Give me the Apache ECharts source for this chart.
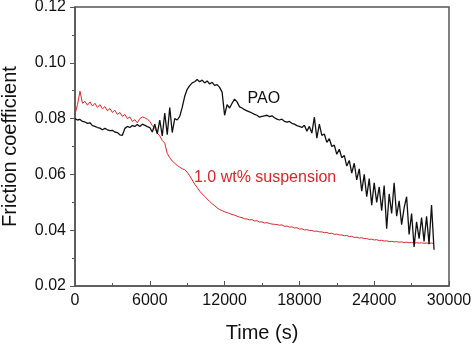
<!DOCTYPE html>
<html>
<head>
<meta charset="utf-8">
<script src="https://cdn.jsdelivr.net/npm/echarts@6/dist/echarts.min.js"></script>
<style>
  html, body { margin: 0; padding: 0; background: #fff; }
  #chart { width: 474px; height: 346px; }
</style>
</head>
<body>
<div id="chart"></div>
<script>
// Sampling interval of the logged friction traces, in seconds
const sampleStep = 200;

// PAO base oil, friction coefficient every 200 s from t = 0
const paoFriction = [
  0.0800, 0.0795, 0.0797, 0.0790, 0.0788, 0.0783, 0.0785, 0.0775, 0.0772, 0.0768,
  0.0766, 0.0760, 0.0765, 0.0760, 0.0757, 0.0758, 0.0752, 0.0750, 0.0742, 0.0740,
  0.0765, 0.0772, 0.0768, 0.0775, 0.0772, 0.0779, 0.0772, 0.0780, 0.0776, 0.0771,
  0.0768, 0.0752, 0.0780, 0.0745, 0.0795, 0.0738, 0.0820, 0.0742, 0.0840, 0.0750,
  0.0800, 0.0795, 0.0808, 0.0840, 0.0880, 0.0905, 0.0918, 0.0928, 0.0932, 0.0940,
  0.0932, 0.0938, 0.0928, 0.0935, 0.0924, 0.0930, 0.0919, 0.0922, 0.0912, 0.0895,
  0.0812, 0.0850, 0.0838, 0.0855, 0.0870, 0.0860, 0.0842, 0.0838, 0.0832, 0.0828,
  0.0824, 0.0820, 0.0815, 0.0812, 0.0805, 0.0808, 0.0810, 0.0812, 0.0807, 0.0810,
  0.0803, 0.0798, 0.0795, 0.0798, 0.0790, 0.0787, 0.0790, 0.0783, 0.0780, 0.0775,
  0.0772, 0.0768, 0.0776, 0.0755, 0.0772, 0.0748, 0.0805, 0.0730, 0.0780, 0.0740,
  0.0745, 0.0715, 0.0728, 0.0700, 0.0705, 0.0672, 0.0690, 0.0660, 0.0668, 0.0630,
  0.0650, 0.0605, 0.0640, 0.0580, 0.0620, 0.0540, 0.0600, 0.0520, 0.0585, 0.0490,
  0.0570, 0.0500, 0.0555, 0.0470, 0.0560, 0.0405, 0.0530, 0.0460, 0.0570, 0.0450,
  0.0505, 0.0420, 0.0480, 0.0520, 0.0385, 0.0460, 0.0340, 0.0430, 0.0370, 0.0445,
  0.0360, 0.0450, 0.0350, 0.0490, 0.0330
];

// 1.0 wt% suspension, friction coefficient every 200 s from t = 0
const suspensionFriction = [
  0.0815, 0.0850, 0.0898, 0.0855, 0.0862, 0.0848, 0.0860, 0.0845, 0.0855, 0.0840,
  0.0850, 0.0835, 0.0843, 0.0828, 0.0836, 0.0822, 0.0830, 0.0815, 0.0822, 0.0808,
  0.0815, 0.0800, 0.0806, 0.0790, 0.0796, 0.0785, 0.0800, 0.0806, 0.0803, 0.0798,
  0.0790, 0.0775, 0.0765, 0.0748, 0.0738, 0.0722, 0.0712, 0.0675, 0.0660, 0.0648,
  0.0640, 0.0632, 0.0626, 0.0620, 0.0617, 0.0608, 0.0595, 0.0580, 0.0565, 0.0553,
  0.0540, 0.0530, 0.0521, 0.0512, 0.0503, 0.0495, 0.0488, 0.0480, 0.0474, 0.0470,
  0.0466, 0.0463, 0.0460, 0.0456, 0.0454, 0.0450, 0.0447, 0.0445, 0.0441, 0.0440,
  0.0437, 0.0438, 0.0433, 0.0434, 0.0429, 0.0430, 0.0426, 0.0427, 0.0424, 0.0422,
  0.0421, 0.0420, 0.0418, 0.0419, 0.0414, 0.0415, 0.0411, 0.0412, 0.0408, 0.0409,
  0.0404, 0.0405, 0.0401, 0.0402, 0.0399, 0.0399, 0.0396, 0.0397, 0.0394, 0.0394,
  0.0391, 0.0392, 0.0388, 0.0389, 0.0385, 0.0386, 0.0383, 0.0383, 0.0380, 0.0381,
  0.0377, 0.0378, 0.0374, 0.0375, 0.0372, 0.0373, 0.0370, 0.0370, 0.0367, 0.0368,
  0.0365, 0.0366, 0.0363, 0.0364, 0.0361, 0.0362, 0.0359, 0.0360, 0.0358, 0.0359,
  0.0357, 0.0358, 0.0356, 0.0357, 0.0355, 0.0356, 0.0354, 0.0355, 0.0354, 0.0355,
  0.0353, 0.0354, 0.0353, 0.0354, 0.0352
];

// Axis ranges and ticks
const timeTicks = [0, 6000, 12000, 18000, 24000, 30000];
const frictionTicks = [0.02, 0.04, 0.06, 0.08, 0.10, 0.12];

// Curve annotations: [text, time, friction]
const paoLabel = ['PAO', 15150, 0.0870];
const suspensionLabel = ['1.0 wt% suspension', 15250, 0.0590];

function toPairs(values) {
  return values.map((v, i) => [i * sampleStep, v]);
}

const FONT = '"Liberation Sans", Arial, sans-serif';
const axisColor = '#555';
const redColor = '#d8262c';

const chart = echarts.init(document.getElementById('chart'), null, { renderer: 'canvas' });

chart.setOption({
  animation: false,
  backgroundColor: '#fff',
  grid: {
    left: 75, right: 25, top: 7, bottom: 60,
    outerBoundsMode: 'none',
    containLabel: false,
    show: true,
    borderColor: axisColor,
    borderWidth: 1.5,
    backgroundColor: 'transparent'
  },
  xAxis: {
    type: 'value',
    min: timeTicks[0],
    max: timeTicks[timeTicks.length - 1],
    interval: timeTicks[1] - timeTicks[0],
    name: 'Time (s)',
    nameLocation: 'middle',
    nameGap: 37,
    nameTextStyle: { fontFamily: FONT, fontSize: 20, color: '#111' },
    axisLine: { show: true, onZero: false, lineStyle: { color: axisColor, width: 1.5 } },
    axisTick: { show: true, inside: true, length: 5, lineStyle: { color: axisColor, width: 1 } },
    minorTick: { show: true, splitNumber: 2, length: 3, lineStyle: { color: axisColor, width: 1 } },
    axisLabel: { fontFamily: FONT, fontSize: 16, color: '#111', margin: 7, formatter: v => String(v) },
    splitLine: { show: false }
  },
  yAxis: {
    type: 'value',
    min: frictionTicks[0],
    max: frictionTicks[frictionTicks.length - 1],
    interval: 0.02,
    name: 'Friction coefficient',
    nameLocation: 'middle',
    nameGap: 55,
    nameTextStyle: { fontFamily: FONT, fontSize: 20, color: '#111' },
    axisLine: { show: true, onZero: false, lineStyle: { color: axisColor, width: 1.5 } },
    axisTick: { show: true, inside: false, length: 5, lineStyle: { color: axisColor, width: 1 } },
    minorTick: { show: true, splitNumber: 2, length: 3, lineStyle: { color: axisColor, width: 1 } },
    axisLabel: {
      fontFamily: FONT, fontSize: 16, color: '#111', margin: 9,
      formatter: v => v.toFixed(2)
    },
    splitLine: { show: false }
  },
  series: [
    {
      name: '1.0 wt% suspension',
      type: 'line',
      data: toPairs(suspensionFriction),
      showSymbol: false,
      symbol: 'none',
      lineStyle: { color: redColor, width: 1 },
      z: 2
    },
    {
      name: 'PAO',
      type: 'line',
      data: toPairs(paoFriction),
      showSymbol: false,
      symbol: 'none',
      lineStyle: { color: '#111', width: 1.3 },
      z: 3
    }
  ]
});

// Curve labels placed at their data coordinates
function labelGraphic(label, color) {
  const p = chart.convertToPixel({ gridIndex: 0 }, [label[1], label[2]]);
  return {
    type: 'text',
    x: p[0],
    y: p[1],
    silent: true,
    style: {
      text: label[0],
      fill: color,
      font: '16px ' + FONT,
      align: 'center',
      verticalAlign: 'middle'
    },
    z: 10
  };
}

chart.setOption({
  graphic: [labelGraphic(paoLabel, '#111'), labelGraphic(suspensionLabel, redColor)]
});
</script>
</body>
</html>
